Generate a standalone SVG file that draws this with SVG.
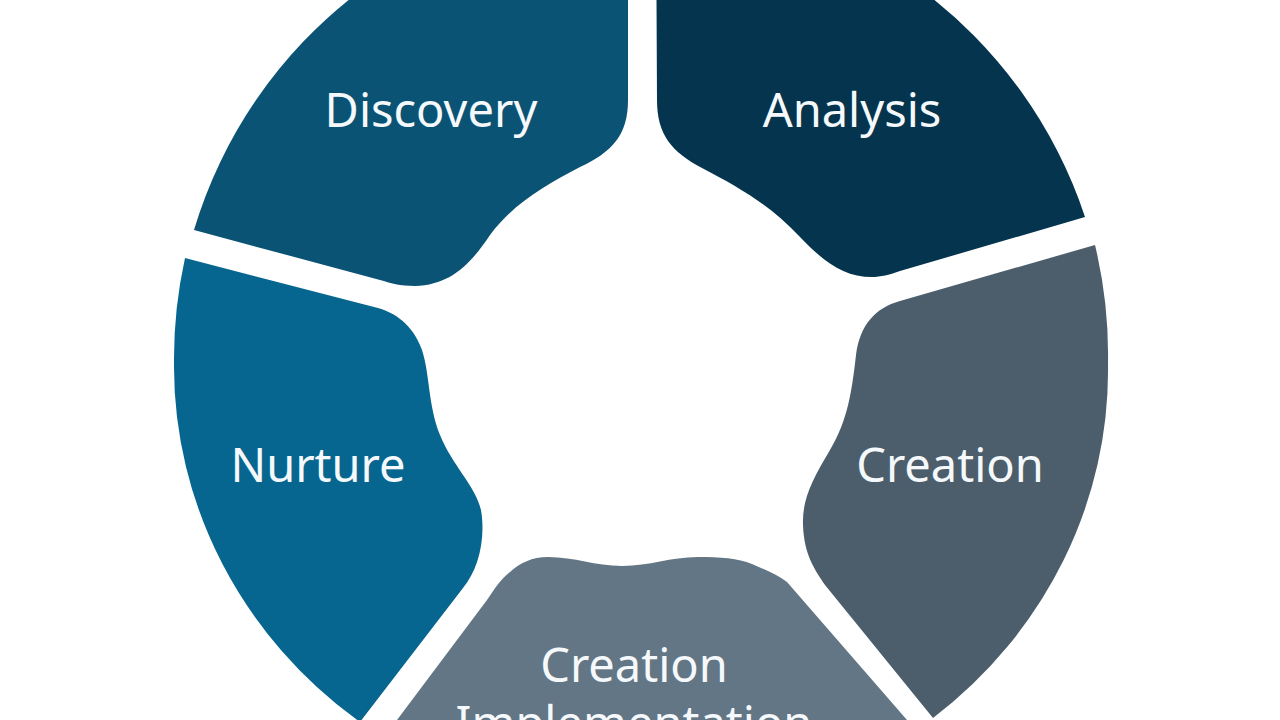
<svg xmlns="http://www.w3.org/2000/svg" width="1280" height="720" viewBox="0 0 1280 720">
  <style>
    .lbl { font-family: "Noto Sans", "Open Sans", "DejaVu Sans", sans-serif; font-size: 47px; fill: #f5f9fb; text-anchor: middle; }
  </style>
  <rect x="0" y="0" width="1280" height="720" fill="#ffffff"/>
  <g id="connectors"></g>
  <g id="discovery">
    <path fill="#0b5374" d="M 628,-103 L 628,100 C 628,135 612,152 580,167 C 545,185 512,205 490,235 C 470,265 450,285 415,286 C 400,286 390,283 380,280 L 194,230 A 467 467 0 0 1 628,-103 Z"/>
    <text class="lbl" x="431" y="127">Discovery</text>
  </g>
  <g id="analysis">
    <path fill="#05344e" d="M 656,-103 L 657,100 C 657,135 672,152 702,168 C 740,188 770,205 800,237 C 825,263 845,278 875,277 C 885,276 892,274 900,271 L 1085,217 A 467 467 0 0 0 656,-103 Z"/>
    <text class="lbl" x="852" y="127">Analysis</text>
  </g>
  <g id="creation">
    <path fill="#4c5e6c" d="M 1095,245 L 900,301 C 875,308 860,325 856,355 C 852,390 848,420 830,450 C 812,480 802,500 803,525 C 804,555 815,570 825,585 L 933,718 A 467 445 0 0 0 1108,364 A 467 467 0 0 0 1095,245 Z"/>
    <text class="lbl" x="950" y="482">Creation</text>
  </g>
  <g id="implementation">
    <path fill="#637685" d="M 382,740 L 397,720 L 487,600 C 495,588 500,580 510,572 C 520,563 532,557 548,557 C 575,557 595,566 622,566 C 650,566 670,557 698,557 C 720,557 738,558 752,564 C 766,570 778,575 787,582 L 907,720 L 925,740 Z"/>
    <text class="lbl" x="634" y="682">Creation</text>
    <text class="lbl" x="634" y="740">Implementation</text>
  </g>
  <g id="nurture">
    <path fill="#07668f" d="M 185,258 L 378,308 C 400,314 415,330 422,350 C 430,375 428,405 440,435 C 452,465 475,485 481,510 C 486,540 478,570 463,588 L 360,722 A 467 445 0 0 1 174,364 A 467 467 0 0 1 185,258 Z"/>
    <text class="lbl" x="318" y="482">Nurture</text>
  </g>
</svg>
